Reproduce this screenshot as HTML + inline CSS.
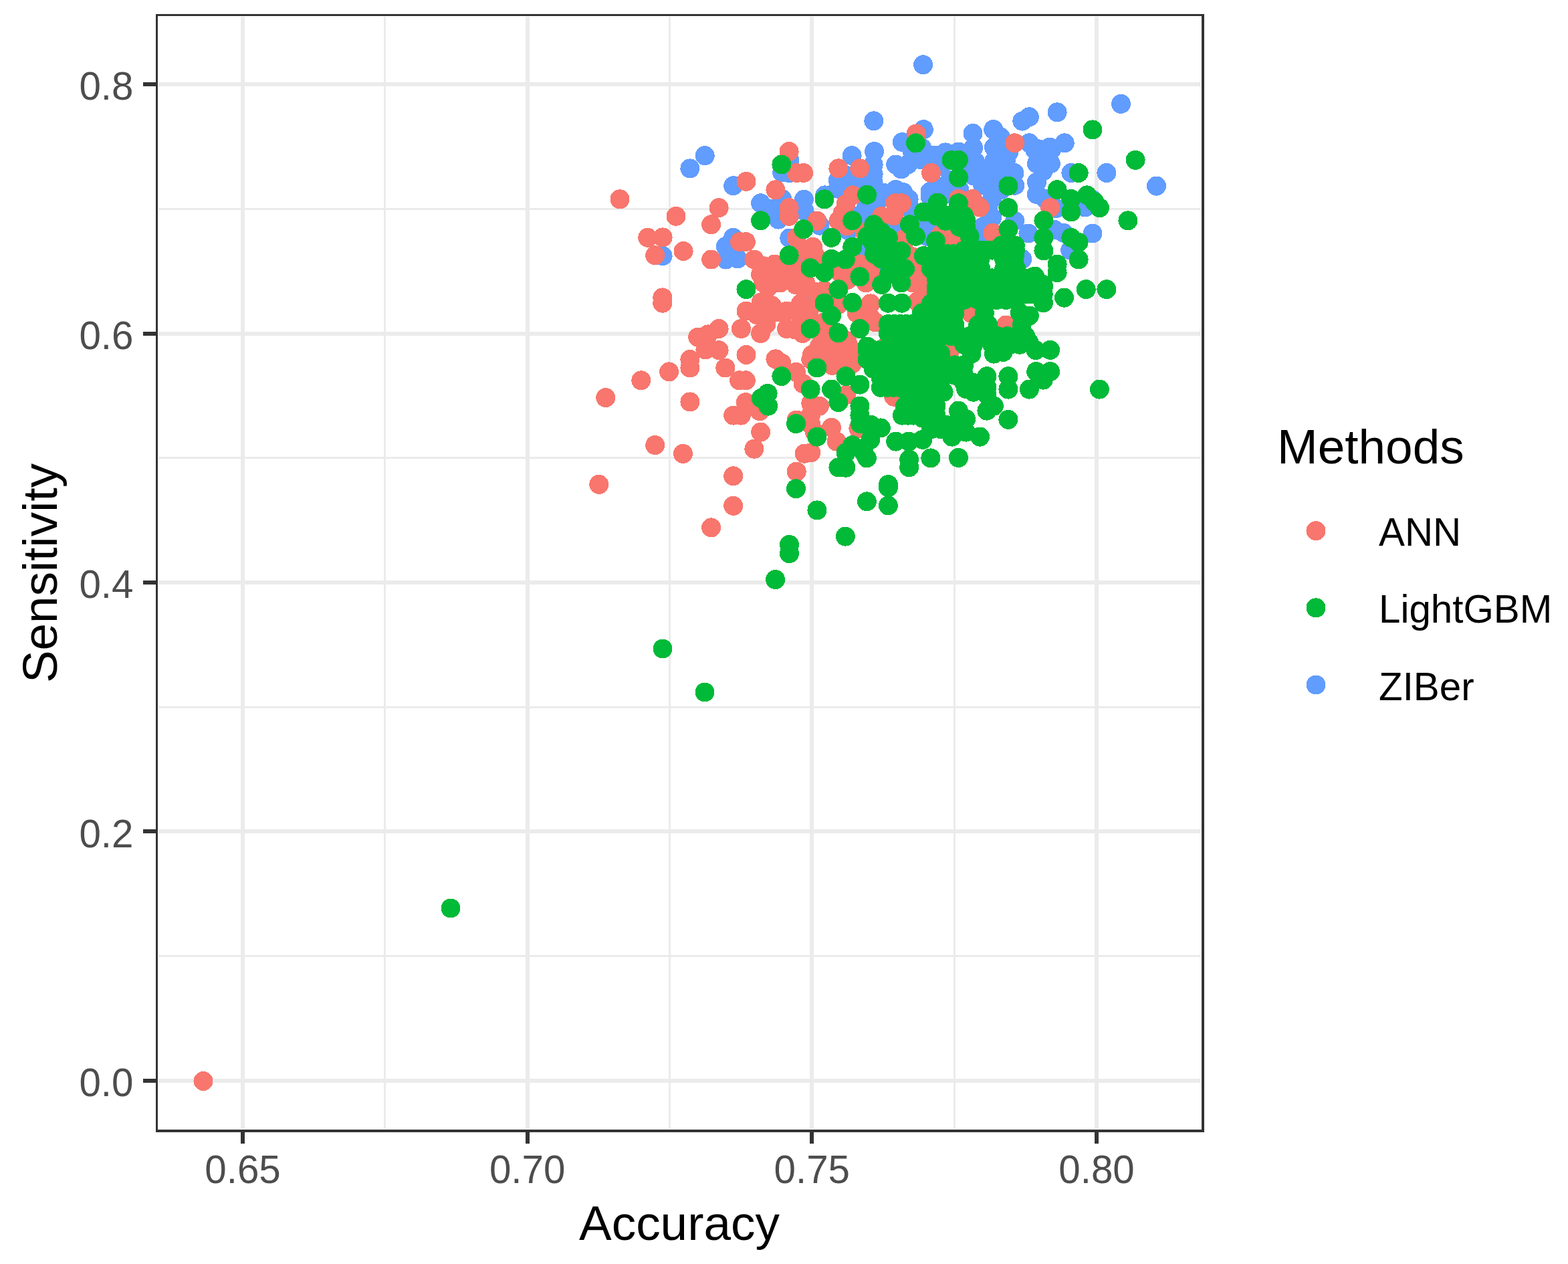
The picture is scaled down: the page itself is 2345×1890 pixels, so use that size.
<!DOCTYPE html>
<html lang="en"><head><meta charset="utf-8"><title>Sensitivity vs Accuracy</title>
<style>html,body{margin:0;padding:0;background:#fff}body{width:2345px;height:1890px;overflow:hidden}svg{display:block}text{font-family:"Liberation Sans",sans-serif}</style></head><body>
<svg width="2345" height="1890" viewBox="0 0 2345 1890" role="img" aria-label="Scatter plot of Sensitivity against Accuracy by method">
<rect x="0" y="0" width="2345" height="1890" fill="#fff"/>
<defs><clipPath id="pc"><rect x="233" y="21" width="1568" height="1672"/></clipPath></defs>
<g shape-rendering="crispEdges" fill="#EBEBEB"><rect x="574" y="25" width="3" height="1663"/><rect x="1000" y="25" width="3" height="1663"/><rect x="1426" y="25" width="3" height="1663"/><rect x="237" y="1428" width="1559" height="3"/><rect x="237" y="1056" width="1559" height="3"/><rect x="237" y="683" width="1559" height="3"/><rect x="237" y="311" width="1559" height="3"/><rect x="360" y="25" width="6" height="1663"/><rect x="786" y="25" width="6" height="1663"/><rect x="1211" y="25" width="6" height="1663"/><rect x="1637" y="25" width="6" height="1663"/><rect x="237" y="1613" width="1559" height="6"/><rect x="237" y="1240" width="1559" height="6"/><rect x="237" y="868" width="1559" height="6"/><rect x="237" y="496" width="1559" height="6"/><rect x="237" y="123" width="1559" height="6"/></g>
<g fill="#619CFF" shape-rendering="crispEdges" clip-path="url(#pc)"><circle cx="1180.8" cy="239.7" r="14.5"/><circle cx="1169.6" cy="257.8" r="14.5"/><circle cx="1137.6" cy="303.8" r="14.5"/><circle cx="1164.1" cy="328.1" r="14.5"/><circle cx="1169.6" cy="297.5" r="14.5"/><circle cx="1202.4" cy="298.2" r="14.5"/><circle cx="1203.1" cy="315.6" r="14.5"/><circle cx="1274.1" cy="232.7" r="14.5"/><circle cx="1307.5" cy="226.5" r="14.5"/><circle cx="1306.1" cy="246" r="14.5"/><circle cx="1253.2" cy="269.6" r="14.5"/><circle cx="1281.1" cy="272.4" r="14.5"/><circle cx="1306.1" cy="272.4" r="14.5"/><circle cx="1233.7" cy="291.9" r="14.5"/><circle cx="1339.6" cy="283.6" r="14.5"/><circle cx="1359.1" cy="297.5" r="14.5"/><circle cx="1349.3" cy="212.5" r="14.5"/><circle cx="1339.6" cy="246" r="14.5"/><circle cx="1357.7" cy="246" r="14.5"/><circle cx="1378.6" cy="239" r="14.5"/><circle cx="1396.7" cy="232" r="14.5"/><circle cx="1180.8" cy="356" r="14.5"/><circle cx="1226" cy="337.2" r="14.5"/><circle cx="1268.5" cy="344.8" r="14.5"/><circle cx="1267.1" cy="262.7" r="14.5"/><circle cx="1295" cy="259.9" r="14.5"/><circle cx="1306.1" cy="259.9" r="14.5"/><circle cx="1288" cy="278" r="14.5"/><circle cx="1267.1" cy="278" r="14.5"/><circle cx="1253.2" cy="282.2" r="14.5"/><circle cx="1315.9" cy="297.5" r="14.5"/><circle cx="1295" cy="311.4" r="14.5"/><circle cx="1308.9" cy="308.6" r="14.5"/><circle cx="1364.6" cy="227.9" r="14.5"/><circle cx="1378.6" cy="220.9" r="14.5"/><circle cx="1347.9" cy="252.9" r="14.5"/><circle cx="1391.1" cy="286.4" r="14.5"/><circle cx="1400" cy="278" r="14.5"/><circle cx="1336.8" cy="342.1" r="14.5"/><circle cx="1378.6" cy="339.3" r="14.5"/><circle cx="1385.5" cy="353.2" r="14.5"/><circle cx="1295" cy="376.9" r="14.5"/><circle cx="1314.5" cy="408.9" r="14.5"/><circle cx="1187.7" cy="397.8" r="14.5"/><circle cx="1208.6" cy="435.4" r="14.5"/><circle cx="1380.6" cy="96.8" r="14.5"/><circle cx="1306.8" cy="180.8" r="14.5"/><circle cx="1381.3" cy="193.6" r="14.5"/><circle cx="1676.5" cy="155.3" r="14.5"/><circle cx="1581.1" cy="167.8" r="14.5"/><circle cx="1539.3" cy="174.8" r="14.5"/><circle cx="1528.8" cy="181.1" r="14.5"/><circle cx="1455" cy="199.4" r="14.5"/><circle cx="1485.7" cy="193.6" r="14.5"/><circle cx="1496.1" cy="204.7" r="14.5"/><circle cx="1539.3" cy="213.8" r="14.5"/><circle cx="1592.2" cy="213.8" r="14.5"/><circle cx="1569.9" cy="220.1" r="14.5"/><circle cx="1553.2" cy="222.8" r="14.5"/><circle cx="1486.4" cy="220.1" r="14.5"/><circle cx="1433.4" cy="227" r="14.5"/><circle cx="1404.2" cy="232.6" r="14.5"/><circle cx="1413.9" cy="227.9" r="14.5"/><circle cx="1455.7" cy="220.9" r="14.5"/><circle cx="1458.5" cy="241.8" r="14.5"/><circle cx="1455.7" cy="262.7" r="14.5"/><circle cx="1469.6" cy="276.6" r="14.5"/><circle cx="1497.5" cy="255.7" r="14.5"/><circle cx="1517" cy="258.5" r="14.5"/><circle cx="1517.7" cy="277.3" r="14.5"/><circle cx="1547.6" cy="223.7" r="14.5"/><circle cx="1572.7" cy="223.7" r="14.5"/><circle cx="1550.4" cy="244.6" r="14.5"/><circle cx="1571.3" cy="244.6" r="14.5"/><circle cx="1560.2" cy="255.7" r="14.5"/><circle cx="1550.4" cy="272.4" r="14.5"/><circle cx="1550.4" cy="290.5" r="14.5"/><circle cx="1563" cy="297.5" r="14.5"/><circle cx="1601.9" cy="258.5" r="14.5"/><circle cx="1654.9" cy="258.5" r="14.5"/><circle cx="1633.3" cy="298.2" r="14.5"/><circle cx="1579.7" cy="311.4" r="14.5"/><circle cx="1622.8" cy="310" r="14.5"/><circle cx="1517.7" cy="330.2" r="14.5"/><circle cx="1537.9" cy="349" r="14.5"/><circle cx="1576.9" cy="343.5" r="14.5"/><circle cx="1590.8" cy="348.3" r="14.5"/><circle cx="1634" cy="349" r="14.5"/><circle cx="1600.6" cy="374.1" r="14.5"/><circle cx="1528.8" cy="387.3" r="14.5"/><circle cx="1483.6" cy="297.5" r="14.5"/><circle cx="1483.6" cy="325.3" r="14.5"/><circle cx="1469.6" cy="339.3" r="14.5"/><circle cx="1490.5" cy="269.6" r="14.5"/><circle cx="1434.8" cy="283.6" r="14.5"/><circle cx="1420.9" cy="269.6" r="14.5"/><circle cx="1407" cy="248.7" r="14.5"/><circle cx="1441.8" cy="255.7" r="14.5"/><circle cx="1497.5" cy="283.6" r="14.5"/><circle cx="1427.9" cy="353.2" r="14.5"/><circle cx="1469.6" cy="357.4" r="14.5"/><circle cx="1478" cy="255.7" r="14.5"/><circle cx="1486.4" cy="241.8" r="14.5"/><circle cx="1504.5" cy="239" r="14.5"/><circle cx="1508.6" cy="227.9" r="14.5"/><circle cx="1054.2" cy="232.7" r="14.5"/><circle cx="1031.9" cy="251.9" r="14.5"/><circle cx="1096.7" cy="277.7" r="14.5"/><circle cx="991.1" cy="382.7" r="14.5"/><circle cx="1096.7" cy="355.3" r="14.5"/><circle cx="1085.2" cy="368.5" r="14.5"/><circle cx="1085.5" cy="388" r="14.5"/><circle cx="1729.5" cy="278.1" r="14.5"/><circle cx="1103" cy="387" r="14.5"/><circle cx="1151.8" cy="312.5" r="14.5"/><circle cx="1180.3" cy="258.7" r="14.5"/><circle cx="1350.6" cy="287.5" r="14.5"/><circle cx="1410" cy="292.1" r="14.5"/><circle cx="1391.4" cy="294.9" r="14.5"/><circle cx="1287" cy="321.8" r="14.5"/><circle cx="1363.6" cy="314.8" r="14.5"/><circle cx="1395.6" cy="338.5" r="14.5"/><circle cx="1321.8" cy="288.4" r="14.5"/><circle cx="1477.5" cy="314.1" r="14.5"/></g>
<g fill="#F8766D" shape-rendering="crispEdges" clip-path="url(#pc)"><circle cx="304" cy="1616.5" r="14.5"/><circle cx="1180.1" cy="226.5" r="14.5"/><circle cx="1191.2" cy="258.5" r="14.5"/><circle cx="1201.7" cy="258.5" r="14.5"/><circle cx="1116" cy="271.3" r="14.5"/><circle cx="1159.9" cy="283.8" r="14.5"/><circle cx="1180.1" cy="310.7" r="14.5"/><circle cx="1180.1" cy="323.3" r="14.5"/><circle cx="1221.9" cy="330.2" r="14.5"/><circle cx="1253.9" cy="251.8" r="14.5"/><circle cx="1285.9" cy="251.8" r="14.5"/><circle cx="1275.5" cy="291.9" r="14.5"/><circle cx="1265" cy="305.2" r="14.5"/><circle cx="1253.9" cy="330.2" r="14.5"/><circle cx="1338.9" cy="303.8" r="14.5"/><circle cx="1348.6" cy="303.8" r="14.5"/><circle cx="1318.7" cy="323.3" r="14.5"/><circle cx="1336.8" cy="322.6" r="14.5"/><circle cx="1392.5" cy="258.5" r="14.5"/><circle cx="1115.3" cy="361.6" r="14.5"/><circle cx="1127.9" cy="388" r="14.5"/><circle cx="1191.2" cy="355.3" r="14.5"/><circle cx="1215.6" cy="369.2" r="14.5"/><circle cx="1158.5" cy="395" r="14.5"/><circle cx="1141.8" cy="408.9" r="14.5"/><circle cx="1169.6" cy="408.9" r="14.5"/><circle cx="1197.5" cy="408.9" r="14.5"/><circle cx="1148.7" cy="429.8" r="14.5"/><circle cx="1204.5" cy="422.8" r="14.5"/><circle cx="1221.2" cy="436.8" r="14.5"/><circle cx="1293.6" cy="347.6" r="14.5"/><circle cx="1352.1" cy="357.4" r="14.5"/><circle cx="1364.6" cy="383.8" r="14.5"/><circle cx="1371.6" cy="406.1" r="14.5"/><circle cx="1364.6" cy="422.8" r="14.5"/><circle cx="1378.6" cy="429.8" r="14.5"/><circle cx="1263" cy="406.1" r="14.5"/><circle cx="1285.2" cy="395" r="14.5"/><circle cx="1297.8" cy="401.9" r="14.5"/><circle cx="1267.1" cy="418.7" r="14.5"/><circle cx="1295" cy="422.8" r="14.5"/><circle cx="1260.2" cy="318.4" r="14.5"/><circle cx="1267.1" cy="337.9" r="14.5"/><circle cx="1141.8" cy="397.8" r="14.5"/><circle cx="1155.7" cy="417.3" r="14.5"/><circle cx="1183.6" cy="395" r="14.5"/><circle cx="1190.5" cy="417.3" r="14.5"/><circle cx="1166.9" cy="422.8" r="14.5"/><circle cx="1211.4" cy="385.2" r="14.5"/><circle cx="1257.4" cy="408.9" r="14.5"/><circle cx="1301.9" cy="408.9" r="14.5"/><circle cx="1357.7" cy="395" r="14.5"/><circle cx="1371.6" cy="417.3" r="14.5"/><circle cx="1385.5" cy="436.8" r="14.5"/><circle cx="1350.7" cy="367.1" r="14.5"/><circle cx="1200.3" cy="429.8" r="14.5"/><circle cx="1141.8" cy="422.8" r="14.5"/><circle cx="1232.3" cy="434" r="14.5"/><circle cx="1370.2" cy="199.9" r="14.5"/><circle cx="1517.7" cy="213.8" r="14.5"/><circle cx="1433.4" cy="297.5" r="14.5"/><circle cx="1454.3" cy="297.5" r="14.5"/><circle cx="1465.5" cy="310" r="14.5"/><circle cx="1570.6" cy="310.7" r="14.5"/><circle cx="1485" cy="348.3" r="14.5"/><circle cx="1407" cy="351.1" r="14.5"/><circle cx="1416.7" cy="356" r="14.5"/><circle cx="1434.8" cy="360.2" r="14.5"/><circle cx="1412.5" cy="442.3" r="14.5"/><circle cx="1116" cy="465.1" r="14.5"/><circle cx="1141.8" cy="453.9" r="14.5"/><circle cx="1148.7" cy="467.9" r="14.5"/><circle cx="1146" cy="484.6" r="14.5"/><circle cx="1137.6" cy="498.5" r="14.5"/><circle cx="1108.4" cy="491.5" r="14.5"/><circle cx="1176.6" cy="465.1" r="14.5"/><circle cx="1197.5" cy="453.9" r="14.5"/><circle cx="1176.6" cy="491.5" r="14.5"/><circle cx="1189.1" cy="492.9" r="14.5"/><circle cx="1200.3" cy="498.5" r="14.5"/><circle cx="1211.4" cy="460.9" r="14.5"/><circle cx="1116" cy="530.5" r="14.5"/><circle cx="1159.9" cy="536.8" r="14.5"/><circle cx="1168.9" cy="543.1" r="14.5"/><circle cx="1190.5" cy="556.3" r="14.5"/><circle cx="1201" cy="573.7" r="14.5"/><circle cx="1225.3" cy="518" r="14.5"/><circle cx="1239.3" cy="526.4" r="14.5"/><circle cx="1253.2" cy="537.5" r="14.5"/><circle cx="1274.1" cy="523.6" r="14.5"/><circle cx="1274.1" cy="544.5" r="14.5"/><circle cx="1214.2" cy="530.5" r="14.5"/><circle cx="1267.1" cy="509.6" r="14.5"/><circle cx="1242.1" cy="509.6" r="14.5"/><circle cx="1257.4" cy="504.1" r="14.5"/><circle cx="1212.8" cy="537.5" r="14.5"/><circle cx="1244.8" cy="546.5" r="14.5"/><circle cx="1232.3" cy="537.5" r="14.5"/><circle cx="1260.2" cy="526.4" r="14.5"/><circle cx="1115.3" cy="568.8" r="14.5"/><circle cx="1105.6" cy="568.8" r="14.5"/><circle cx="1115.3" cy="601.6" r="14.5"/><circle cx="1108.4" cy="621.1" r="14.5"/><circle cx="1136.2" cy="614.8" r="14.5"/><circle cx="1137.6" cy="646.1" r="14.5"/><circle cx="1127.9" cy="671.2" r="14.5"/><circle cx="1212.8" cy="603" r="14.5"/><circle cx="1225.3" cy="607.1" r="14.5"/><circle cx="1212.8" cy="619.7" r="14.5"/><circle cx="1191.2" cy="628" r="14.5"/><circle cx="1212.8" cy="635" r="14.5"/><circle cx="1218.4" cy="646.1" r="14.5"/><circle cx="1243.5" cy="639.2" r="14.5"/><circle cx="1251.1" cy="660.1" r="14.5"/><circle cx="1203.1" cy="678.2" r="14.5"/><circle cx="1212.8" cy="676.8" r="14.5"/><circle cx="1265.7" cy="590.4" r="14.5"/><circle cx="1336.8" cy="587.6" r="14.5"/><circle cx="1283.8" cy="640.6" r="14.5"/><circle cx="1225.3" cy="495.7" r="14.5"/><circle cx="1232.3" cy="481.8" r="14.5"/><circle cx="1281.1" cy="467.9" r="14.5"/><circle cx="1301.9" cy="453.9" r="14.5"/><circle cx="1301.9" cy="474.8" r="14.5"/><circle cx="1329.8" cy="509.6" r="14.5"/><circle cx="1336.8" cy="593.2" r="14.5"/><circle cx="1308.9" cy="481.8" r="14.5"/><circle cx="1371.6" cy="451.1" r="14.5"/><circle cx="927" cy="297.8" r="14.5"/><circle cx="1011" cy="323.3" r="14.5"/><circle cx="1075.1" cy="310.7" r="14.5"/><circle cx="1063.6" cy="335.8" r="14.5"/><circle cx="968.8" cy="355.3" r="14.5"/><circle cx="991.1" cy="354.9" r="14.5"/><circle cx="979.7" cy="381.8" r="14.5"/><circle cx="1022.1" cy="375.5" r="14.5"/><circle cx="1063.6" cy="388" r="14.5"/><circle cx="1106.4" cy="361.6" r="14.5"/><circle cx="990.8" cy="444.9" r="14.5"/><circle cx="990.8" cy="453.2" r="14.5"/><circle cx="1075.1" cy="491.5" r="14.5"/><circle cx="1043.7" cy="504.1" r="14.5"/><circle cx="1059.1" cy="499.9" r="14.5"/><circle cx="1075.1" cy="523.6" r="14.5"/><circle cx="1054.9" cy="522.9" r="14.5"/><circle cx="1031.9" cy="537.5" r="14.5"/><circle cx="1031.9" cy="550" r="14.5"/><circle cx="1084.8" cy="550" r="14.5"/><circle cx="1000.6" cy="555.9" r="14.5"/><circle cx="958.8" cy="568.8" r="14.5"/><circle cx="905.8" cy="594.6" r="14.5"/><circle cx="1031.9" cy="600.9" r="14.5"/><circle cx="1096.7" cy="621.1" r="14.5"/><circle cx="979.7" cy="665.6" r="14.5"/><circle cx="1021.4" cy="678.4" r="14.5"/><circle cx="895.8" cy="724.3" r="14.5"/><circle cx="1063.6" cy="788.9" r="14.5"/><circle cx="1096.7" cy="711.8" r="14.5"/><circle cx="1096.7" cy="756.3" r="14.5"/><circle cx="1191.2" cy="705.1" r="14.5"/><circle cx="1451.5" cy="467.9" r="14.5"/><circle cx="1504.5" cy="486" r="14.5"/><circle cx="1404.2" cy="506.2" r="14.5"/><circle cx="1420.9" cy="523.6" r="14.5"/><circle cx="1154.3" cy="456.8" r="14.5"/><circle cx="1132" cy="470.7" r="14.5"/><circle cx="1163.6" cy="467" r="14.5"/><circle cx="1196.1" cy="470.7" r="14.5"/><circle cx="1210" cy="473.5" r="14.5"/><circle cx="1200.7" cy="373.2" r="14.5"/><circle cx="1219.3" cy="382.5" r="14.5"/><circle cx="1254.6" cy="454.9" r="14.5"/><circle cx="1137.6" cy="410.4" r="14.5"/><circle cx="1138" cy="452.1" r="14.5"/><circle cx="1190" cy="425.7" r="14.5"/></g>
<g fill="#00BA38" shape-rendering="crispEdges" clip-path="url(#pc)"><circle cx="1168.9" cy="246" r="14.5"/><circle cx="1233" cy="297.8" r="14.5"/><circle cx="1296.7" cy="291.2" r="14.5"/><circle cx="1137.6" cy="329.8" r="14.5"/><circle cx="1201.7" cy="342.8" r="14.5"/><circle cx="1274.8" cy="329.8" r="14.5"/><circle cx="1243.5" cy="355.3" r="14.5"/><circle cx="1180.1" cy="381.8" r="14.5"/><circle cx="1369.5" cy="213.9" r="14.5"/><circle cx="1116" cy="432.6" r="14.5"/><circle cx="1212.1" cy="400.6" r="14.5"/><circle cx="1233" cy="407.5" r="14.5"/><circle cx="1243.5" cy="387.3" r="14.5"/><circle cx="1264.3" cy="388" r="14.5"/><circle cx="1274.8" cy="369.2" r="14.5"/><circle cx="1285.9" cy="413.8" r="14.5"/><circle cx="1253.9" cy="432.6" r="14.5"/><circle cx="1306.8" cy="335.8" r="14.5"/><circle cx="1297.1" cy="353.2" r="14.5"/><circle cx="1328.4" cy="355.3" r="14.5"/><circle cx="1307.5" cy="379.7" r="14.5"/><circle cx="1317.3" cy="386.6" r="14.5"/><circle cx="1347.9" cy="375.5" r="14.5"/><circle cx="1339.6" cy="400.6" r="14.5"/><circle cx="1318.7" cy="425.6" r="14.5"/><circle cx="1347.9" cy="422.8" r="14.5"/><circle cx="1360.4" cy="335.8" r="14.5"/><circle cx="1369.5" cy="353.2" r="14.5"/><circle cx="1381.3" cy="317" r="14.5"/><circle cx="1402.2" cy="303.1" r="14.5"/><circle cx="1381.3" cy="382.5" r="14.5"/><circle cx="1392.5" cy="401.9" r="14.5"/><circle cx="1317.3" cy="367.1" r="14.5"/><circle cx="1329.8" cy="374.1" r="14.5"/><circle cx="1336.8" cy="388" r="14.5"/><circle cx="1353.5" cy="401.9" r="14.5"/><circle cx="1329.8" cy="408.9" r="14.5"/><circle cx="1399.4" cy="360.2" r="14.5"/><circle cx="1400" cy="429.8" r="14.5"/><circle cx="1306.1" cy="364.3" r="14.5"/><circle cx="1317.3" cy="346.2" r="14.5"/><circle cx="1634" cy="193.9" r="14.5"/><circle cx="1423" cy="239.3" r="14.5"/><circle cx="1433.4" cy="239.3" r="14.5"/><circle cx="1433.4" cy="265.5" r="14.5"/><circle cx="1507.9" cy="278" r="14.5"/><circle cx="1507.9" cy="310.7" r="14.5"/><circle cx="1507.9" cy="342.8" r="14.5"/><circle cx="1613.1" cy="258.5" r="14.5"/><circle cx="1698.1" cy="239.3" r="14.5"/><circle cx="1581.1" cy="283.6" r="14.5"/><circle cx="1601.9" cy="297.5" r="14.5"/><circle cx="1625.6" cy="291.9" r="14.5"/><circle cx="1636.8" cy="301.7" r="14.5"/><circle cx="1644.4" cy="310.7" r="14.5"/><circle cx="1601.9" cy="317" r="14.5"/><circle cx="1686.9" cy="329.8" r="14.5"/><circle cx="1560.9" cy="329.8" r="14.5"/><circle cx="1560.9" cy="355.3" r="14.5"/><circle cx="1560.9" cy="374.8" r="14.5"/><circle cx="1601.9" cy="355.3" r="14.5"/><circle cx="1613.1" cy="362.3" r="14.5"/><circle cx="1613.1" cy="388" r="14.5"/><circle cx="1581.1" cy="395" r="14.5"/><circle cx="1581.1" cy="407.5" r="14.5"/><circle cx="1624.2" cy="432.6" r="14.5"/><circle cx="1654.9" cy="432.6" r="14.5"/><circle cx="1591.5" cy="445.1" r="14.5"/><circle cx="1433.4" cy="303.8" r="14.5"/><circle cx="1413.9" cy="330.2" r="14.5"/><circle cx="1444.6" cy="329.5" r="14.5"/><circle cx="1450.1" cy="353.2" r="14.5"/><circle cx="1518.4" cy="367.1" r="14.5"/><circle cx="1517.7" cy="381.1" r="14.5"/><circle cx="1547.6" cy="413.1" r="14.5"/><circle cx="1560.2" cy="425.6" r="14.5"/><circle cx="1497.5" cy="367.1" r="14.5"/><circle cx="1483.6" cy="374.1" r="14.5"/><circle cx="1441.8" cy="374.1" r="14.5"/><circle cx="1450.3" cy="374.1" r="14.5"/><circle cx="1458.8" cy="374.1" r="14.5"/><circle cx="1467.3" cy="374.1" r="14.5"/><circle cx="1475.8" cy="374.1" r="14.5"/><circle cx="1492.9" cy="374.1" r="14.5"/><circle cx="1501.4" cy="374.1" r="14.5"/><circle cx="1509.9" cy="374.1" r="14.5"/><circle cx="1518.4" cy="374.1" r="14.5"/><circle cx="1400" cy="379.7" r="14.5"/><circle cx="1408.4" cy="379.7" r="14.5"/><circle cx="1416.7" cy="379.7" r="14.5"/><circle cx="1425.1" cy="379.7" r="14.5"/><circle cx="1433.4" cy="379.7" r="14.5"/><circle cx="1441.8" cy="379.7" r="14.5"/><circle cx="1400" cy="388" r="14.5"/><circle cx="1409.4" cy="388" r="14.5"/><circle cx="1418.7" cy="388" r="14.5"/><circle cx="1428.1" cy="388" r="14.5"/><circle cx="1437.4" cy="388" r="14.5"/><circle cx="1446.8" cy="388" r="14.5"/><circle cx="1456.1" cy="388" r="14.5"/><circle cx="1465.5" cy="388" r="14.5"/><circle cx="1501.7" cy="388" r="14.5"/><circle cx="1509.3" cy="388" r="14.5"/><circle cx="1517" cy="388" r="14.5"/><circle cx="1400" cy="401.9" r="14.5"/><circle cx="1409.6" cy="401.9" r="14.5"/><circle cx="1419.1" cy="401.9" r="14.5"/><circle cx="1428.7" cy="401.9" r="14.5"/><circle cx="1438.2" cy="401.9" r="14.5"/><circle cx="1447.8" cy="401.9" r="14.5"/><circle cx="1457.3" cy="401.9" r="14.5"/><circle cx="1466.9" cy="401.9" r="14.5"/><circle cx="1501.7" cy="401.9" r="14.5"/><circle cx="1510.7" cy="401.9" r="14.5"/><circle cx="1519.8" cy="401.9" r="14.5"/><circle cx="1400" cy="415.9" r="14.5"/><circle cx="1409.3" cy="415.9" r="14.5"/><circle cx="1418.6" cy="415.9" r="14.5"/><circle cx="1427.9" cy="415.9" r="14.5"/><circle cx="1437.1" cy="415.9" r="14.5"/><circle cx="1446.4" cy="415.9" r="14.5"/><circle cx="1455.7" cy="415.9" r="14.5"/><circle cx="1465" cy="415.9" r="14.5"/><circle cx="1474.3" cy="415.9" r="14.5"/><circle cx="1483.6" cy="415.9" r="14.5"/><circle cx="1492.9" cy="415.9" r="14.5"/><circle cx="1502.1" cy="415.9" r="14.5"/><circle cx="1511.4" cy="415.9" r="14.5"/><circle cx="1520.7" cy="415.9" r="14.5"/><circle cx="1530" cy="415.9" r="14.5"/><circle cx="1539.3" cy="415.9" r="14.5"/><circle cx="1408.9" cy="429.8" r="14.5"/><circle cx="1417.8" cy="429.8" r="14.5"/><circle cx="1426.7" cy="429.8" r="14.5"/><circle cx="1435.6" cy="429.8" r="14.5"/><circle cx="1444.5" cy="429.8" r="14.5"/><circle cx="1453.4" cy="429.8" r="14.5"/><circle cx="1462.3" cy="429.8" r="14.5"/><circle cx="1471.2" cy="429.8" r="14.5"/><circle cx="1480.1" cy="429.8" r="14.5"/><circle cx="1489" cy="429.8" r="14.5"/><circle cx="1497.9" cy="429.8" r="14.5"/><circle cx="1506.8" cy="429.8" r="14.5"/><circle cx="1515.7" cy="429.8" r="14.5"/><circle cx="1524.6" cy="429.8" r="14.5"/><circle cx="1533.5" cy="429.8" r="14.5"/><circle cx="1542.4" cy="429.8" r="14.5"/><circle cx="1551.3" cy="429.8" r="14.5"/><circle cx="1560.2" cy="429.8" r="14.5"/><circle cx="1400" cy="440" r="14.5"/><circle cx="1408.9" cy="440" r="14.5"/><circle cx="1417.8" cy="440" r="14.5"/><circle cx="1426.7" cy="440" r="14.5"/><circle cx="1435.6" cy="440" r="14.5"/><circle cx="1444.5" cy="440" r="14.5"/><circle cx="1453.4" cy="440" r="14.5"/><circle cx="1462.3" cy="440" r="14.5"/><circle cx="1471.2" cy="440" r="14.5"/><circle cx="1480.1" cy="440" r="14.5"/><circle cx="1489" cy="440" r="14.5"/><circle cx="1497.9" cy="440" r="14.5"/><circle cx="1506.8" cy="440" r="14.5"/><circle cx="1515.7" cy="440" r="14.5"/><circle cx="1524.6" cy="440" r="14.5"/><circle cx="1533.5" cy="440" r="14.5"/><circle cx="1542.4" cy="440" r="14.5"/><circle cx="1551.3" cy="440" r="14.5"/><circle cx="1560.2" cy="440" r="14.5"/><circle cx="1434.8" cy="339.3" r="14.5"/><circle cx="1444.6" cy="339.3" r="14.5"/><circle cx="1400" cy="322.6" r="14.5"/><circle cx="1408.4" cy="322.6" r="14.5"/><circle cx="1416.7" cy="322.6" r="14.5"/><circle cx="1425.1" cy="322.6" r="14.5"/><circle cx="1433.4" cy="322.6" r="14.5"/><circle cx="1441.8" cy="322.6" r="14.5"/><circle cx="1233" cy="453.2" r="14.5"/><circle cx="1243.5" cy="472" r="14.5"/><circle cx="1274.8" cy="452.5" r="14.5"/><circle cx="1212.1" cy="491.5" r="14.5"/><circle cx="1253.9" cy="497.8" r="14.5"/><circle cx="1285.9" cy="491.5" r="14.5"/><circle cx="1328.4" cy="453.2" r="14.5"/><circle cx="1348.6" cy="453.2" r="14.5"/><circle cx="1221.9" cy="550" r="14.5"/><circle cx="1168.9" cy="562.6" r="14.5"/><circle cx="1212.1" cy="582.1" r="14.5"/><circle cx="1265" cy="562.6" r="14.5"/><circle cx="1285.9" cy="575.1" r="14.5"/><circle cx="1243.5" cy="582.1" r="14.5"/><circle cx="1253.9" cy="601.6" r="14.5"/><circle cx="1148.1" cy="588.3" r="14.5"/><circle cx="1138.3" cy="595.3" r="14.5"/><circle cx="1148.7" cy="607.1" r="14.5"/><circle cx="1190.5" cy="633.6" r="14.5"/><circle cx="1221.9" cy="653.1" r="14.5"/><circle cx="1285.9" cy="607.1" r="14.5"/><circle cx="1285.9" cy="621.1" r="14.5"/><circle cx="1286.6" cy="633.6" r="14.5"/><circle cx="1301.9" cy="635" r="14.5"/><circle cx="1317.3" cy="639.9" r="14.5"/><circle cx="1274.8" cy="665.6" r="14.5"/><circle cx="1265" cy="676.8" r="14.5"/><circle cx="1328.4" cy="484.6" r="14.5"/><circle cx="1337.4" cy="484.6" r="14.5"/><circle cx="1346.3" cy="484.6" r="14.5"/><circle cx="1355.3" cy="484.6" r="14.5"/><circle cx="1364.2" cy="484.6" r="14.5"/><circle cx="1373.2" cy="484.6" r="14.5"/><circle cx="1382.1" cy="484.6" r="14.5"/><circle cx="1391.1" cy="484.6" r="14.5"/><circle cx="1400" cy="484.6" r="14.5"/><circle cx="1328.4" cy="498.5" r="14.5"/><circle cx="1337.4" cy="498.5" r="14.5"/><circle cx="1346.3" cy="498.5" r="14.5"/><circle cx="1355.3" cy="498.5" r="14.5"/><circle cx="1364.2" cy="498.5" r="14.5"/><circle cx="1373.2" cy="498.5" r="14.5"/><circle cx="1382.1" cy="498.5" r="14.5"/><circle cx="1391.1" cy="498.5" r="14.5"/><circle cx="1400" cy="498.5" r="14.5"/><circle cx="1297.1" cy="523.6" r="14.5"/><circle cx="1306.4" cy="523.6" r="14.5"/><circle cx="1315.8" cy="523.6" r="14.5"/><circle cx="1325.1" cy="523.6" r="14.5"/><circle cx="1334.5" cy="523.6" r="14.5"/><circle cx="1343.9" cy="523.6" r="14.5"/><circle cx="1353.2" cy="523.6" r="14.5"/><circle cx="1362.6" cy="523.6" r="14.5"/><circle cx="1371.9" cy="523.6" r="14.5"/><circle cx="1381.3" cy="523.6" r="14.5"/><circle cx="1390.6" cy="523.6" r="14.5"/><circle cx="1400" cy="523.6" r="14.5"/><circle cx="1297.1" cy="537.5" r="14.5"/><circle cx="1306.4" cy="537.5" r="14.5"/><circle cx="1315.8" cy="537.5" r="14.5"/><circle cx="1325.1" cy="537.5" r="14.5"/><circle cx="1334.5" cy="537.5" r="14.5"/><circle cx="1343.9" cy="537.5" r="14.5"/><circle cx="1353.2" cy="537.5" r="14.5"/><circle cx="1362.6" cy="537.5" r="14.5"/><circle cx="1371.9" cy="537.5" r="14.5"/><circle cx="1381.3" cy="537.5" r="14.5"/><circle cx="1390.6" cy="537.5" r="14.5"/><circle cx="1400" cy="537.5" r="14.5"/><circle cx="1306.1" cy="551.4" r="14.5"/><circle cx="1315.5" cy="551.4" r="14.5"/><circle cx="1324.9" cy="551.4" r="14.5"/><circle cx="1334.3" cy="551.4" r="14.5"/><circle cx="1343.7" cy="551.4" r="14.5"/><circle cx="1353.1" cy="551.4" r="14.5"/><circle cx="1362.5" cy="551.4" r="14.5"/><circle cx="1371.8" cy="551.4" r="14.5"/><circle cx="1381.2" cy="551.4" r="14.5"/><circle cx="1390.6" cy="551.4" r="14.5"/><circle cx="1400" cy="551.4" r="14.5"/><circle cx="1317.3" cy="565.3" r="14.5"/><circle cx="1326.5" cy="565.3" r="14.5"/><circle cx="1335.7" cy="565.3" r="14.5"/><circle cx="1344.8" cy="565.3" r="14.5"/><circle cx="1354" cy="565.3" r="14.5"/><circle cx="1363.2" cy="565.3" r="14.5"/><circle cx="1372.4" cy="565.3" r="14.5"/><circle cx="1381.6" cy="565.3" r="14.5"/><circle cx="1390.8" cy="565.3" r="14.5"/><circle cx="1400" cy="565.3" r="14.5"/><circle cx="1317.3" cy="579.3" r="14.5"/><circle cx="1326.5" cy="579.3" r="14.5"/><circle cx="1335.7" cy="579.3" r="14.5"/><circle cx="1344.8" cy="579.3" r="14.5"/><circle cx="1354" cy="579.3" r="14.5"/><circle cx="1363.2" cy="579.3" r="14.5"/><circle cx="1372.4" cy="579.3" r="14.5"/><circle cx="1381.6" cy="579.3" r="14.5"/><circle cx="1390.8" cy="579.3" r="14.5"/><circle cx="1400" cy="579.3" r="14.5"/><circle cx="1361.8" cy="593.2" r="14.5"/><circle cx="1371.4" cy="593.2" r="14.5"/><circle cx="1380.9" cy="593.2" r="14.5"/><circle cx="1390.5" cy="593.2" r="14.5"/><circle cx="1400" cy="593.2" r="14.5"/><circle cx="1353.5" cy="607.1" r="14.5"/><circle cx="1362.8" cy="607.1" r="14.5"/><circle cx="1372.1" cy="607.1" r="14.5"/><circle cx="1381.4" cy="607.1" r="14.5"/><circle cx="1390.7" cy="607.1" r="14.5"/><circle cx="1400" cy="607.1" r="14.5"/><circle cx="1349.3" cy="621.1" r="14.5"/><circle cx="1357.8" cy="621.1" r="14.5"/><circle cx="1366.2" cy="621.1" r="14.5"/><circle cx="1374.7" cy="621.1" r="14.5"/><circle cx="1383.1" cy="621.1" r="14.5"/><circle cx="1391.6" cy="621.1" r="14.5"/><circle cx="1400" cy="621.1" r="14.5"/><circle cx="1392.5" cy="453.9" r="14.5"/><circle cx="1400" cy="453.9" r="14.5"/><circle cx="1378.6" cy="467.9" r="14.5"/><circle cx="1389.3" cy="467.9" r="14.5"/><circle cx="1400" cy="467.9" r="14.5"/><circle cx="1364.6" cy="511" r="14.5"/><circle cx="1373.5" cy="511" r="14.5"/><circle cx="1382.3" cy="511" r="14.5"/><circle cx="1391.2" cy="511" r="14.5"/><circle cx="1400" cy="511" r="14.5"/><circle cx="1297.1" cy="518" r="14.5"/><circle cx="1301.9" cy="657.3" r="14.5"/><circle cx="1339.6" cy="660.1" r="14.5"/><circle cx="1359.1" cy="660.1" r="14.5"/><circle cx="1379.9" cy="657.3" r="14.5"/><circle cx="1292.2" cy="676.8" r="14.5"/><circle cx="1379.9" cy="625.2" r="14.5"/><circle cx="1392.5" cy="641.9" r="14.5"/><circle cx="991" cy="970" r="14.5"/><circle cx="1054" cy="1035" r="14.5"/><circle cx="674" cy="1358" r="14.5"/><circle cx="1190.5" cy="730.8" r="14.5"/><circle cx="1221.9" cy="762.9" r="14.5"/><circle cx="1264.3" cy="802.1" r="14.5"/><circle cx="1180.4" cy="814.4" r="14.5"/><circle cx="1180.4" cy="827.6" r="14.5"/><circle cx="1159.6" cy="866.6" r="14.5"/><circle cx="1296.4" cy="749.9" r="14.5"/><circle cx="1328.4" cy="724.6" r="14.5"/><circle cx="1328.4" cy="728.7" r="14.5"/><circle cx="1328.4" cy="755.9" r="14.5"/><circle cx="1253.9" cy="698.8" r="14.5"/><circle cx="1265" cy="699.2" r="14.5"/><circle cx="1296.4" cy="684.9" r="14.5"/><circle cx="1359.7" cy="698.8" r="14.5"/><circle cx="1359.7" cy="687" r="14.5"/><circle cx="1391.8" cy="684.9" r="14.5"/><circle cx="1644.4" cy="582.1" r="14.5"/><circle cx="1560.4" cy="452.8" r="14.5"/><circle cx="1539.3" cy="472" r="14.5"/><circle cx="1528.1" cy="486" r="14.5"/><circle cx="1539.3" cy="512.4" r="14.5"/><circle cx="1570.6" cy="523.3" r="14.5"/><circle cx="1549" cy="523.6" r="14.5"/><circle cx="1570.6" cy="555.6" r="14.5"/><circle cx="1549.7" cy="555.6" r="14.5"/><circle cx="1560.2" cy="568.1" r="14.5"/><circle cx="1539.3" cy="582.1" r="14.5"/><circle cx="1507.9" cy="562.6" r="14.5"/><circle cx="1507.9" cy="582.1" r="14.5"/><circle cx="1475.9" cy="562.6" r="14.5"/><circle cx="1475.9" cy="579.3" r="14.5"/><circle cx="1475.9" cy="590.4" r="14.5"/><circle cx="1486.4" cy="607.1" r="14.5"/><circle cx="1475.9" cy="614.1" r="14.5"/><circle cx="1507.9" cy="627.3" r="14.5"/><circle cx="1433.4" cy="614.1" r="14.5"/><circle cx="1444.6" cy="626.6" r="14.5"/><circle cx="1465.5" cy="653.1" r="14.5"/><circle cx="1408.4" cy="641.9" r="14.5"/><circle cx="1423.7" cy="653.1" r="14.5"/><circle cx="1444.6" cy="646.1" r="14.5"/><circle cx="1433.4" cy="684.4" r="14.5"/><circle cx="1400" cy="448.4" r="14.5"/><circle cx="1413.9" cy="448.4" r="14.5"/><circle cx="1427.9" cy="448.4" r="14.5"/><circle cx="1441.8" cy="448.4" r="14.5"/><circle cx="1462.7" cy="448.4" r="14.5"/><circle cx="1476.6" cy="448.4" r="14.5"/><circle cx="1490.5" cy="448.4" r="14.5"/><circle cx="1504.5" cy="448.4" r="14.5"/><circle cx="1518.4" cy="448.4" r="14.5"/><circle cx="1413.9" cy="467.9" r="14.5"/><circle cx="1427.9" cy="467.9" r="14.5"/><circle cx="1472.4" cy="467.9" r="14.5"/><circle cx="1525.3" cy="467.9" r="14.5"/><circle cx="1413.9" cy="486" r="14.5"/><circle cx="1427.9" cy="486" r="14.5"/><circle cx="1462.7" cy="486" r="14.5"/><circle cx="1478" cy="486" r="14.5"/><circle cx="1408.4" cy="502.7" r="14.5"/><circle cx="1422.3" cy="502.7" r="14.5"/><circle cx="1436.2" cy="502.7" r="14.5"/><circle cx="1450.1" cy="502.7" r="14.5"/><circle cx="1464.1" cy="502.7" r="14.5"/><circle cx="1478" cy="502.7" r="14.5"/><circle cx="1491.9" cy="502.7" r="14.5"/><circle cx="1505.8" cy="502.7" r="14.5"/><circle cx="1519.8" cy="502.7" r="14.5"/><circle cx="1533.7" cy="502.7" r="14.5"/><circle cx="1441.8" cy="515.2" r="14.5"/><circle cx="1455.7" cy="515.2" r="14.5"/><circle cx="1483.6" cy="515.2" r="14.5"/><circle cx="1497.5" cy="515.2" r="14.5"/><circle cx="1511.4" cy="515.2" r="14.5"/><circle cx="1525.3" cy="515.2" r="14.5"/><circle cx="1400" cy="529.1" r="14.5"/><circle cx="1407" cy="529.1" r="14.5"/><circle cx="1452.9" cy="529.1" r="14.5"/><circle cx="1486.4" cy="529.1" r="14.5"/><circle cx="1500.3" cy="526.4" r="14.5"/><circle cx="1400" cy="545.8" r="14.5"/><circle cx="1413.9" cy="545.8" r="14.5"/><circle cx="1427.9" cy="545.8" r="14.5"/><circle cx="1441.8" cy="545.8" r="14.5"/><circle cx="1413.9" cy="561.2" r="14.5"/><circle cx="1427.9" cy="561.2" r="14.5"/><circle cx="1441.8" cy="561.2" r="14.5"/><circle cx="1400" cy="572.3" r="14.5"/><circle cx="1441.8" cy="572.3" r="14.5"/><circle cx="1455.7" cy="572.3" r="14.5"/><circle cx="1400" cy="586.2" r="14.5"/><circle cx="1411.1" cy="586.2" r="14.5"/><circle cx="1444.6" cy="581.4" r="14.5"/><circle cx="1455.7" cy="586.2" r="14.5"/><circle cx="1400" cy="635" r="14.5"/><circle cx="1413.9" cy="635" r="14.5"/><circle cx="1427.9" cy="635" r="14.5"/></g>
<g shape-rendering="crispEdges" fill="#333333">
<rect x="233" y="21" width="1568" height="3"/>
<rect x="233" y="1689" width="1568" height="4"/>
<rect x="233" y="21" width="3" height="1672"/>
<rect x="1797" y="21" width="4" height="1672"/>
<rect x="360" y="1693" width="6" height="17"/>
<rect x="786" y="1693" width="6" height="17"/>
<rect x="1211" y="1693" width="6" height="17"/>
<rect x="1637" y="1693" width="6" height="17"/>
<rect x="214" y="1613" width="19" height="6"/>
<rect x="214" y="1240" width="19" height="6"/>
<rect x="214" y="868" width="19" height="6"/>
<rect x="214" y="496" width="19" height="6"/>
<rect x="214" y="123" width="19" height="6"/>
</g>
<g font-size="58.33" fill="#4D4D4D">
<text x="363.0" y="1769" text-anchor="middle">0.65</text>
<text x="788.7" y="1769" text-anchor="middle">0.70</text>
<text x="1214.3" y="1769" text-anchor="middle">0.75</text>
<text x="1640.0" y="1769" text-anchor="middle">0.80</text>
<text x="199.5" y="1639.0" text-anchor="end">0.0</text>
<text x="199.5" y="1266.5" text-anchor="end">0.2</text>
<text x="199.5" y="894.0" text-anchor="end">0.4</text>
<text x="199.5" y="521.5" text-anchor="end">0.6</text>
<text x="199.5" y="149.0" text-anchor="end">0.8</text>
</g>
<text x="1016" y="1853.8" font-size="72.92" text-anchor="middle" fill="#000">Accuracy</text>
<text transform="translate(85,857) rotate(-90)" font-size="72.92" text-anchor="middle" fill="#000">Sensitivity</text>
<text x="1910" y="693" font-size="72.92" fill="#000">Methods</text>
<circle cx="1968" cy="793.6" r="14.5" fill="#F8766D" shape-rendering="crispEdges"/>
<text x="2062" y="816.1" font-size="58.33" fill="#000">ANN</text>
<circle cx="1968" cy="908.8" r="14.5" fill="#00BA38" shape-rendering="crispEdges"/>
<text x="2062" y="931.3" font-size="58.33" fill="#000">LightGBM</text>
<circle cx="1968" cy="1024.0" r="14.5" fill="#619CFF" shape-rendering="crispEdges"/>
<text x="2062" y="1046.5" font-size="58.33" fill="#000">ZIBer</text>
</svg></body></html>
